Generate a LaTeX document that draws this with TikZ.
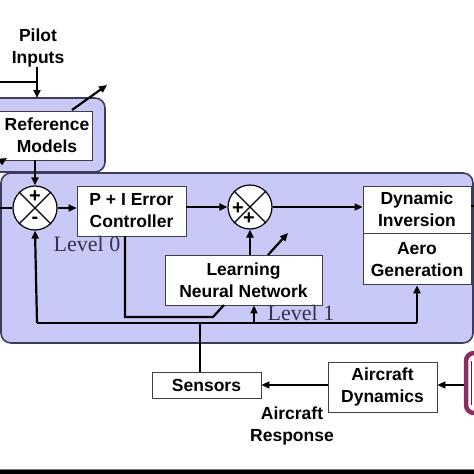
\documentclass[tikz,border=0pt]{standalone}
\usepackage{fontspec}
\newfontfamily\arialb{Liberation Sans}
\newfontfamily\tnr{Liberation Serif}
\usetikzlibrary{arrows.meta,calc}
\definecolor{lav}{HTML}{C9C9F7}
\definecolor{edge}{HTML}{3C3C5C}
\definecolor{maroon}{HTML}{8B2D62}
\definecolor{lvl}{HTML}{33334F}
\tikzset{
  panel/.style={fill=lav,draw=edge,line width=1.6pt,rounded corners=10pt},
  blk/.style={draw=black!75,fill=white,line width=0.9pt,inner sep=0pt,align=center,
    font=\arialb\bfseries\fontsize{17.5}{22}\selectfont},
  lbl/.style={inner sep=0pt,align=center,font=\arialb\bfseries\fontsize{17.5}{22}\selectfont},
  lvltxt/.style={inner sep=0pt,text=lvl,font=\tnr\fontsize{22}{24}\selectfont},
  sumc/.style={circle,draw=black,fill=white,line width=1.2pt,minimum size=44pt,inner sep=0pt},
  wire/.style={line width=2.2pt,draw=black},
  arr/.style={wire,-{Triangle[length=8pt,width=7pt]}},
  sgn/.style={inner sep=0pt,font=\arialb\bfseries\fontsize{20}{20}\selectfont}
}
\begin{document}
\begin{tikzpicture}[x=1pt,y=-1pt]
\useasboundingbox (0,0) rectangle (474,474);
\clip (0,0) rectangle (474,474);
% panels
\draw[panel] (-30,98) rectangle (105,172);
\draw[panel] (1,173) rectangle (473,343);
% bottom band
\fill[black] (0,470) rectangle (474,476);
\draw[gray,line width=0.8pt] (0,469) -- (474,469);
% blocks
\node[lbl] (pilot) at (38,48) {Pilot\\Inputs};
% reference models box runs off the left edge
\fill[white] (-5,111) rectangle (92,160);
\draw[black!75,line width=0.9pt] (-5,111) -- (92,111) -- (92,160) -- (-5,160);
\node[lbl,minimum width=88pt,minimum height=49pt] (ref) at (47,135.5) {Reference\\Models};
\node[sumc] (s1) at (35,208) {};
\draw[line width=1.1pt] (s1.north west) -- (s1.south east) (s1.north east) -- (s1.south west);
\node[sgn] at ($(s1.center)+(0,-11)$) {+};
\node[sgn] at ($(s1.center)+(0,12)$) {-};
\node[blk,minimum width=109pt,minimum height=50pt] (pi) at (131.5,211) {P + I Error\\Controller};
\node[sumc] (s2) at (250,207) {};
\draw[line width=1.1pt] (s2.north west) -- (s2.south east) (s2.north east) -- (s2.south west);
\node[sgn] at ($(s2.center)+(-12,2)$) {+};
\node[sgn] at ($(s2.center)+(-1,12)$) {+};
\node[blk,minimum width=108pt,minimum height=47pt] (di) at (417,209.5) {Dynamic\\Inversion};
\node[blk,minimum width=108pt,minimum height=51pt,anchor=north] (aero) at (di.south) {Aero\\Generation};
\node[blk,minimum width=157pt,minimum height=50pt] (nn) at (243.5,280) {Learning\\Neural Network};
\node[blk,minimum width=109pt,minimum height=26pt] (sens) at (206.5,385) {Sensors};
\node[blk,minimum width=109pt,minimum height=50pt] (ad) at (382.5,387) {Aircraft\\Dynamics};
\node[lbl] (resp) at (292,426) {Aircraft\\Response};
\node[lvltxt] (l0) at (87,244) {Level 0};
\node[lvltxt] (l1) at (301,313) {Level 1};
% maroon box
\node[draw=maroon,line width=4.5pt,rounded corners=8pt,fill=white,minimum width=40pt,minimum height=60pt,inner sep=0pt] (act) at (486,383) {};
\draw[black!80,line width=1pt] (471.5,361) -- (471.5,405);
% coordinates
\coordinate (pj) at (37,82);
\coordinate (pl) at (-5,82);
\coordinate (pt) at (37,98);
\coordinate (d1a) at (72,110);
\coordinate (d1b) at (107,85);
\coordinate (d2a) at (-10,168);
\coordinate (d2b) at (7,158);
\coordinate (in) at (-5,208);
\coordinate (c1) at (125,317);
\coordinate (c2) at (213,317);
\coordinate (c3) at (224,305);
\coordinate (fbl) at (37,323);
\coordinate (fbr) at (417,323);
\coordinate (fbs) at (200,323);
\coordinate (fbn) at (254,323);
\coordinate (stub) at (480,206);
\coordinate (d3a) at (268,255);
\coordinate (d3b) at (288,233);
% connectors
\draw[arr] (pilot.south -| pj) -- (pt);
\draw[wire] (pl) -- (pj);
\draw[arr] (d1a) -- (d1b);
\draw[arr] (d2a) -- (d2b);
\draw[arr] (ref.south -| s1.north) -- (s1.north);
\draw[wire] (in) -- (s1.west);
\draw[arr] (s1.east) -- (s1.east -| pi.west);
\draw[arr] (pi.east |- s2.west) -- (s2.west);
\draw[arr] (s2.east) -- (s2.east -| di.west);
\draw[wire] (di.east |- stub) -- (stub);
\draw[arr] (s2.south |- nn.north) -- (s2.south);
\draw[arr] (d3a) -- (d3b);
\draw[wire] (pi.south -| c1) -- (c1) -- (c2) -- (c3);
\draw[wire] (fbl) -- (fbr);
\draw[arr] (fbl) -- (s1.south);
\draw[arr] (fbr) -- (aero.south -| fbr);
\draw[arr] (fbn) -- (nn.south -| fbn);
\draw[wire] (fbs) -- (sens.north -| fbs);
\draw[arr] (ad.west |- 0,385) -- (sens.east |- 0,385);
\draw[arr] (act.west |- 0,385) -- (ad.east |- 0,385);
\end{tikzpicture}
\end{document}
